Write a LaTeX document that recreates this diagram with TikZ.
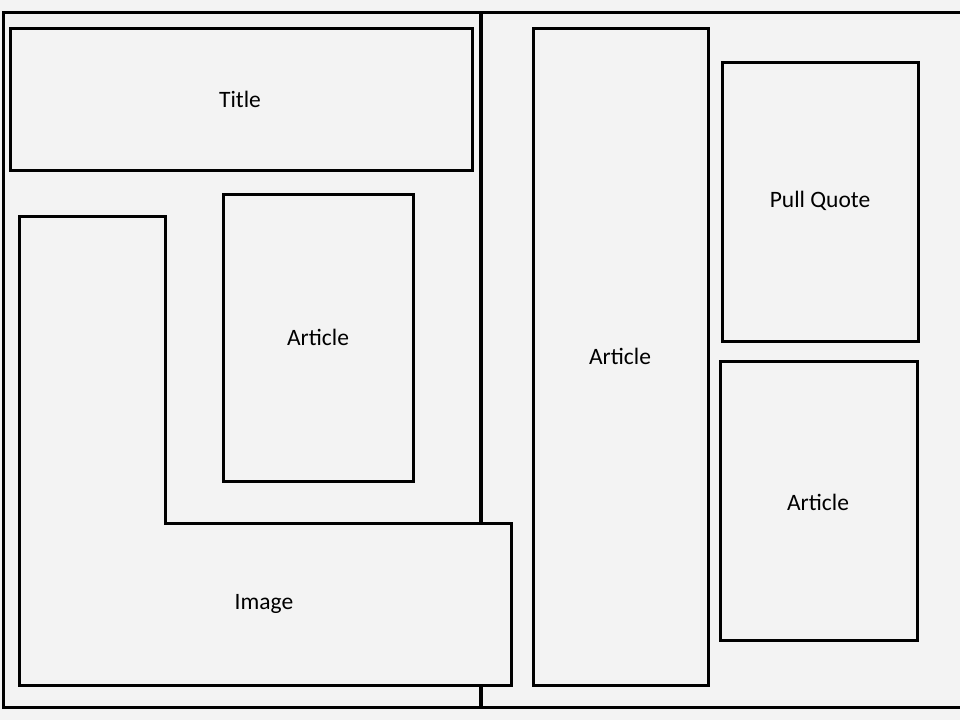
\documentclass[tikz,border=0pt]{standalone}
\usepackage{fontspec}
\setmainfont{Carlito}
\definecolor{paper}{RGB}{243,243,243}
\begin{document}
\begin{tikzpicture}[x=1pt,y=-1pt,line width=3pt,
	box/.style={draw=black,fill=paper},
	lbl/.style={font=\fontsize{23.5}{26}\selectfont}]
		
		\fill[paper] (0,0) rectangle (960,720);
		\useasboundingbox (0,0) rectangle (960,720);
		
		% the two pages
		\draw[box] (3,12) rectangle (480,707);
		\draw[box] (963,12) -- (481,12) -- (481,707) -- (963,707);
		
		% left page
		\draw[box] (10,28) rectangle (472,170);
		\node[lbl] (title) at (240,99) {Title};
		\draw[box] (223,194) rectangle (413,481);
		\node[lbl] (artleft) at (318,337) {Article};
		\draw[box] (19,216) -- (165,216) -- (165,523) -- (511,523) -- (511,685) -- (19,685) -- cycle;
		\node[lbl] (image) at (264,604) {Image};
		
		% right page
		\draw[box] (533,28) rectangle (708,685);
		\node[lbl] (artmid) at (620,356) {Article};
		\draw[box] (722,62) rectangle (918,341);
		\node[lbl] (quote) at (820,201) {Pull Quote};
		\draw[box] (720,361) rectangle (917,640);
		\node[lbl] (artright) at (818,502) {Article};
		
	\end{tikzpicture}
\end{document}
